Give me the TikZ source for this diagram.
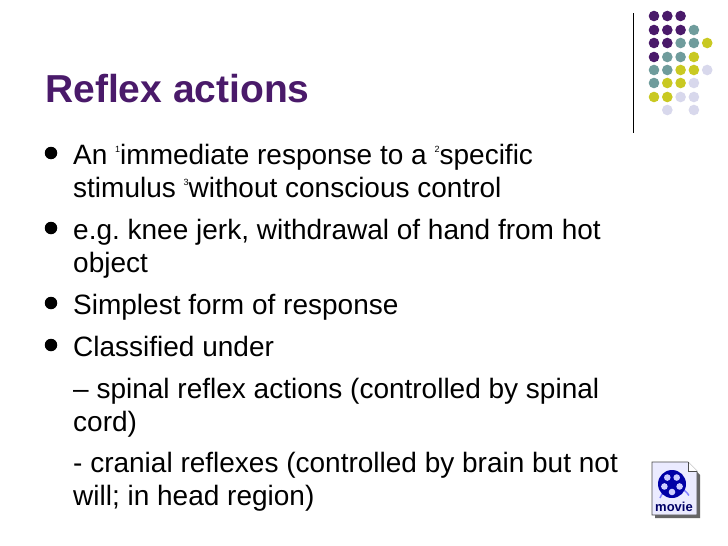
\documentclass[tikz,border=0pt]{standalone}
\usepackage{fontspec}
\setmainfont{Liberation Sans}
\definecolor{pp}{HTML}{4A1A6A}
\definecolor{tl}{HTML}{6F9C9C}
\definecolor{yl}{HTML}{C9C922}
\definecolor{lv}{HTML}{D8D8EC}
\newcommand{\supnum}[1]{\raisebox{12pt}{\fontsize{9}{9}\selectfont #1}}
\frenchspacing
\begin{document}
\begin{tikzpicture}[x=1pt,y=-1pt,
  txt/.style={anchor=base west,inner sep=0pt,font=\fontsize{28}{32}\selectfont},
  bul/.style={circle,fill=black,inner sep=0pt,minimum size=12.5pt}]
\useasboundingbox (0,0) rectangle (728,546);
\fill[white] (0,0) rectangle (728,546);
\draw[line width=1pt] (633,13) -- (633,133);
% dots
\foreach \r/\cols in {16/{0/pp,1/pp,2/pp},30/{0/pp,1/pp,2/pp,3/tl},43/{0/pp,1/pp,2/tl,3/tl,4/yl},
  57/{0/pp,1/tl,2/tl,3/yl},70/{0/tl,1/tl,2/yl,3/yl,4/lv},83/{0/tl,1/yl,2/yl,3/lv},
  97/{0/yl,1/yl,2/lv,3/lv},110/{1/lv,3/lv}}{
  \foreach \c/\col in \cols { \fill[\col] (654+13.3*\c,\r) circle (5.3); }
}
\node[anchor=base west,inner sep=0pt,text=pp,font=\fontsize{39}{44}\bfseries\selectfont] (title) at (45,102) {Reflex actions};
\node[txt] (l1) at (73,164) {An \supnum{1}immediate response to a \supnum{2}specific};
\node[txt] (l2) at (73,197) {stimulus \supnum{3}without conscious control};
\node[txt] (l3) at (73,239) {e.g. knee jerk, withdrawal of hand from hot};
\node[txt] (l4) at (73,272) {object};
\node[txt] (l5) at (73,314) {Simplest form of response};
\node[txt] (l6) at (73,356) {Classified under};
\node[txt] (l7) at (73,398) {– spinal reflex actions (controlled by spinal};
\node[txt] (l8) at (73,431) {cord)};
\node[txt] (l9) at (73,472) {- cranial reflexes (controlled by brain but not};
\node[txt] (l10) at (73,505) {will; in head region)};
\foreach \y in {153,228,303,345} \node[bul] at (51,\y) {};
% movie icon
\fill[black!60] (655,465) -- (690,465) -- (700,475) -- (700,518) -- (655,518) -- cycle;
\fill[blue!8] (652,462) -- (688,462) -- (697,471) -- (697,515) -- (652,515) -- cycle;
\draw[black!70,line width=0.6pt] (652,462) -- (688,462) -- (697,471) -- (697,515) -- (652,515) -- cycle;
\fill[white] (688,462) -- (688,471) -- (697,471) -- cycle;
\draw[black!70,line width=0.5pt] (688,462) -- (688,471) -- (697,471);
\draw[blue!50,line width=1.5pt] (660,498) arc (200:330:16);
\fill[blue!65!black] (672,484) circle (14);
\foreach \a in {90,162,234,306,18} \fill[blue!20] (672,484) ++(\a:8) circle (3.3);
\node[inner sep=0pt,font=\fontsize{13}{13}\bfseries\selectfont,text=blue!40!black] (mv) at (674,507) {movie};
\end{tikzpicture}
\end{document}
